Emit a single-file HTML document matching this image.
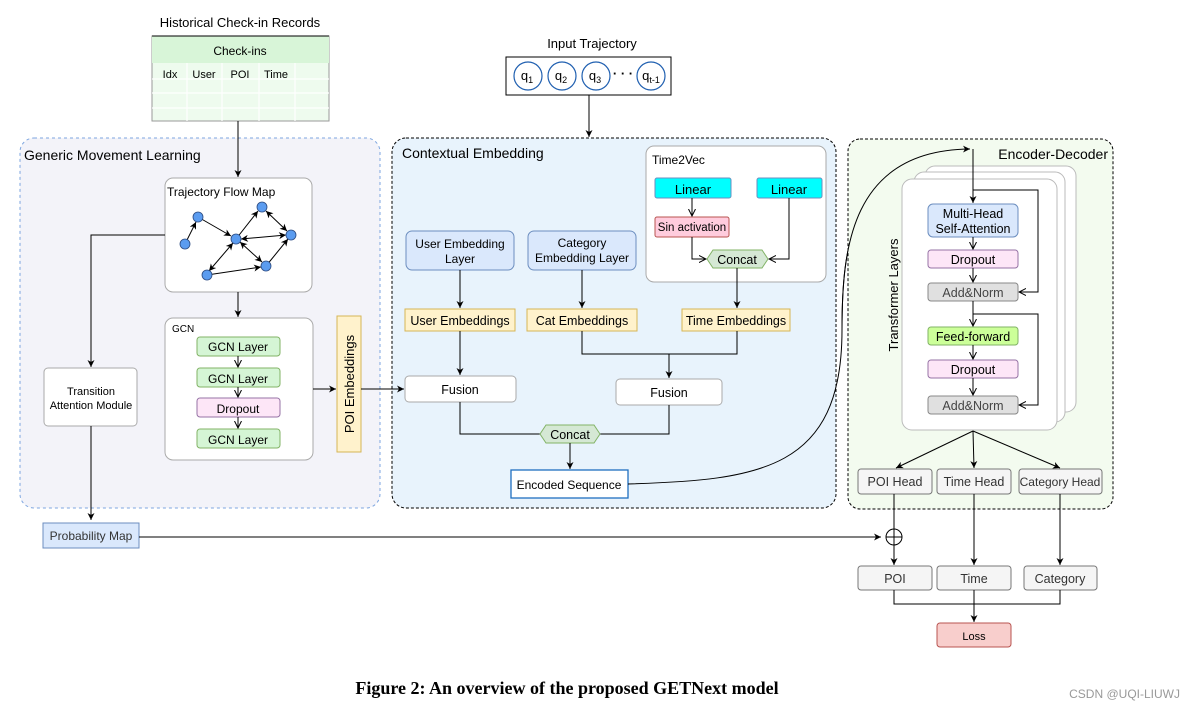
<!DOCTYPE html>
<html><head><meta charset="utf-8"><style>
html,body{margin:0;padding:0;background:#fff;}
svg{display:block;font-family:"Liberation Sans",sans-serif;}
text{font-family:"Liberation Sans",sans-serif;}
</style></head><body>
<svg width="1194" height="712" viewBox="0 0 1194 712" xmlns="http://www.w3.org/2000/svg">
<defs>
<marker id="a" markerWidth="8" markerHeight="8" refX="7" refY="4" orient="auto" markerUnits="userSpaceOnUse"><path d="M0,0.5 L7,4 L0,7.5 L2,4 Z" fill="#000"/></marker>
<marker id="o" markerWidth="8" markerHeight="8" refX="7" refY="4" orient="auto" markerUnits="userSpaceOnUse"><path d="M0,0.5 L7,4 L0,7.5" fill="none" stroke="#000"/></marker>
<marker id="s" markerWidth="8" markerHeight="8" refX="1" refY="4" orient="auto" markerUnits="userSpaceOnUse"><path d="M8,0.5 L1,4 L8,7.5 L6,4 Z" fill="#000"/></marker>
</defs>
<g stroke-width="1" font-size="12">
<!-- Historical -->
<text x="240" y="27" text-anchor="middle" font-size="13">Historical Check-in Records</text>
<rect x="152" y="36" width="177" height="85" fill="#eefbee" stroke="#999"/>
<rect x="152" y="36" width="177" height="27" fill="#d8f5d8"/>
<line x1="152" y1="36" x2="329" y2="36" stroke="#000"/>
<g stroke="#ffffff" stroke-width="1.2">
<line x1="187" y1="63" x2="187" y2="121"/><line x1="222" y1="63" x2="222" y2="121"/><line x1="259" y1="63" x2="259" y2="121"/><line x1="295" y1="63" x2="295" y2="121"/>
<line x1="152" y1="79" x2="329" y2="79"/><line x1="152" y1="93" x2="329" y2="93"/><line x1="152" y1="108" x2="329" y2="108"/>
</g>
<text x="240" y="55" text-anchor="middle" font-size="12">Check-ins</text>
<g font-size="11" text-anchor="middle"><text x="170" y="78">Idx</text><text x="204" y="78">User</text><text x="240" y="78">POI</text><text x="276" y="78">Time</text></g>

<!-- GML -->
<rect x="20" y="138" width="360" height="370" rx="14" fill="#f3f3f9" stroke="#7ea6e0" stroke-dasharray="3,3"/>
<line x1="238" y1="121" x2="238" y2="177" stroke="#000" marker-end="url(#a)"/>
<text x="24" y="160" font-size="14">Generic Movement Learning</text>
<rect x="165" y="178" width="147" height="114" rx="8" fill="#fff" stroke="#aaa"/>
<text x="167" y="196" font-size="12">Trajectory Flow Map</text>
<g stroke="#000" stroke-width="1">
<line x1="185" y1="244" x2="196" y2="222" marker-end="url(#a)"/>
<line x1="198" y1="217" x2="231" y2="236" marker-end="url(#a)"/>
<line x1="236" y1="239" x2="258" y2="211" marker-end="url(#a)"/>
<line x1="266" y1="211" x2="287" y2="231" marker-end="url(#a)" marker-start="url(#s)"/>
<line x1="241" y1="239" x2="286" y2="235" marker-end="url(#a)" marker-start="url(#s)"/>
<line x1="240" y1="242" x2="262" y2="262" marker-end="url(#a)" marker-start="url(#s)"/>
<line x1="266" y1="266" x2="288" y2="239" marker-end="url(#a)"/>
<line x1="209" y1="271" x2="233" y2="243" marker-end="url(#a)" marker-start="url(#s)"/>
<line x1="207" y1="275" x2="261" y2="267" marker-end="url(#a)"/>
</g>
<g fill="#5b9cf0" stroke="#2b4a80" stroke-width="0.8">
<circle cx="198" cy="217" r="5"/><circle cx="185" cy="244" r="5"/><circle cx="236" cy="239" r="5"/><circle cx="262" cy="207" r="5"/><circle cx="291" cy="235" r="5"/><circle cx="266" cy="266" r="5"/><circle cx="207" cy="275" r="5"/>
</g>
<line x1="238" y1="292" x2="238" y2="317" stroke="#000" marker-end="url(#a)"/>
<rect x="165" y="318" width="148" height="142" rx="8" fill="#fff" stroke="#aaa"/>
<text x="172" y="332" font-size="10">GCN</text>
<g font-size="12" text-anchor="middle">
<rect x="197" y="337" width="83" height="19" rx="3" fill="#d5f5d5" stroke="#82b366"/><text x="238" y="351">GCN Layer</text>
<rect x="197" y="368" width="83" height="19" rx="3" fill="#d5f5d5" stroke="#82b366"/><text x="238" y="383">GCN Layer</text>
<rect x="197" y="398" width="83" height="19" rx="3" fill="#fde6f7" stroke="#9673a6"/><text x="238" y="413">Dropout</text>
<rect x="197" y="429" width="83" height="19" rx="3" fill="#d5f5d5" stroke="#82b366"/><text x="238" y="444">GCN Layer</text>
</g>
<g stroke="#000"><line x1="238" y1="356" x2="238" y2="367" marker-end="url(#o)"/><line x1="238" y1="387" x2="238" y2="397" marker-end="url(#o)"/><line x1="238" y1="417" x2="238" y2="428" marker-end="url(#o)"/></g>
<polyline points="165,235 91,235 91,367" fill="none" stroke="#000" marker-end="url(#a)"/>
<rect x="44" y="368" width="93" height="58" rx="4" fill="#fff" stroke="#aaa"/>
<text x="91" y="395" text-anchor="middle" font-size="11">Transition</text>
<text x="91" y="409" text-anchor="middle" font-size="11">Attention Module</text>
<line x1="91" y1="426" x2="91" y2="520" stroke="#000" marker-end="url(#a)"/>
<rect x="43" y="523" width="96" height="25" fill="#dae8fc" stroke="#6c8ebf"/>
<text x="91" y="540" text-anchor="middle" font-size="12" fill="#333">Probability Map</text>
<line x1="139" y1="537" x2="881" y2="537" stroke="#000" marker-end="url(#a)"/>
<line x1="313" y1="389" x2="336" y2="389" stroke="#000" marker-end="url(#a)"/>
<rect x="337" y="316" width="24" height="136" fill="#fff2cc" stroke="#d6b656"/>
<text transform="translate(354,384) rotate(-90)" text-anchor="middle" font-size="13">POI Embeddings</text>

<!-- Contextual -->
<rect x="392" y="138" width="444" height="370" rx="14" fill="#e8f3fc" stroke="#000" stroke-dasharray="3,2"/>
<line x1="361" y1="389" x2="404" y2="389" stroke="#000" marker-end="url(#a)"/>
<text x="402" y="158" font-size="14">Contextual Embedding</text>
<text x="592" y="48" text-anchor="middle" font-size="13">Input Trajectory</text>
<rect x="506" y="57" width="165" height="38" fill="#fff" stroke="#000"/>
<g fill="#fff" stroke="#1f5fb0" stroke-width="1.2"><circle cx="528" cy="76" r="14"/><circle cx="562" cy="76" r="14"/><circle cx="596" cy="76" r="14"/><circle cx="651" cy="76" r="14"/></g>
<g font-size="13" text-anchor="middle"><text x="527" y="80">q<tspan font-size="9" dy="3">1</tspan></text><text x="561" y="80">q<tspan font-size="9" dy="3">2</tspan></text><text x="595" y="80">q<tspan font-size="9" dy="3">3</tspan></text><text x="651" y="80">q<tspan font-size="9" dy="3">t-1</tspan></text><text x="623" y="78" font-weight="bold">· · ·</text></g>
<line x1="589" y1="95" x2="589" y2="137" stroke="#000" marker-end="url(#a)"/>

<rect x="646" y="146" width="180" height="136" rx="8" fill="#fff" stroke="#aaa"/>
<text x="652" y="164" font-size="12">Time2Vec</text>
<rect x="655" y="178" width="76" height="20" rx="2" fill="#00ffff" stroke="#6c8ebf"/><text x="693" y="194" text-anchor="middle" font-size="13">Linear</text>
<rect x="757" y="178" width="65" height="20" rx="2" fill="#00ffff" stroke="#6c8ebf"/><text x="789" y="194" text-anchor="middle" font-size="13">Linear</text>
<rect x="655" y="217" width="74" height="20" rx="2" fill="#ffccdd" stroke="#b85450"/><text x="692" y="231" text-anchor="middle" font-size="11.5">Sin activation</text>
<line x1="692" y1="198" x2="692" y2="216" stroke="#000" marker-end="url(#o)"/>
<polygon points="707,259 713,250 762,250 768,259 762,268 713,268" fill="#d5e8d4" stroke="#82b366"/>
<text x="737" y="264" text-anchor="middle" font-size="12.5">Concat</text>
<polyline points="692,237 692,259 706,259" fill="none" stroke="#000" marker-end="url(#o)"/>
<polyline points="789,198 789,259 769,259" fill="none" stroke="#000" marker-end="url(#o)"/>
<line x1="737" y1="268" x2="737" y2="308" stroke="#000" marker-end="url(#a)"/>

<rect x="406" y="231" width="108" height="39" rx="6" fill="#dae8fc" stroke="#6c8ebf"/>
<text x="460" y="248" text-anchor="middle" font-size="12">User Embedding</text><text x="460" y="263" text-anchor="middle" font-size="12">Layer</text>
<rect x="528" y="231" width="108" height="39" rx="6" fill="#dae8fc" stroke="#6c8ebf"/>
<text x="582" y="247" text-anchor="middle" font-size="12">Category</text><text x="582" y="262" text-anchor="middle" font-size="12">Embedding Layer</text>
<line x1="460" y1="270" x2="460" y2="308" stroke="#000" marker-end="url(#a)"/>
<line x1="582" y1="270" x2="582" y2="308" stroke="#000" marker-end="url(#a)"/>
<g font-size="12.5" text-anchor="middle">
<rect x="405" y="309" width="110" height="22" fill="#fff2cc" stroke="#d6b656"/><text x="460" y="325">User Embeddings</text>
<rect x="527" y="309" width="110" height="22" fill="#fff2cc" stroke="#d6b656"/><text x="582" y="325">Cat Embeddings</text>
<rect x="682" y="309" width="108" height="22" fill="#fff2cc" stroke="#d6b656"/><text x="736" y="325">Time Embeddings</text>
</g>
<line x1="460" y1="331" x2="460" y2="375" stroke="#000" marker-end="url(#a)"/>
<polyline points="582,331 582,354 737,354 737,331" fill="none" stroke="#000"/>
<line x1="669" y1="354" x2="669" y2="378" stroke="#000" marker-end="url(#a)"/>
<rect x="405" y="376" width="111" height="26" rx="4" fill="#fff" stroke="#aaa"/><text x="460" y="394" text-anchor="middle" font-size="12.5">Fusion</text>
<rect x="616" y="379" width="106" height="26" rx="4" fill="#fff" stroke="#aaa"/><text x="669" y="397" text-anchor="middle" font-size="12.5">Fusion</text>
<polyline points="460,402 460,434 540,434" fill="none" stroke="#000"/>
<polyline points="669,405 669,434 600,434" fill="none" stroke="#000"/>
<polygon points="540,434 546,425 594,425 600,434 594,443 546,443" fill="#d5e8d4" stroke="#82b366"/>
<text x="570" y="439" text-anchor="middle" font-size="12.5">Concat</text>
<line x1="570" y1="443" x2="570" y2="469" stroke="#000" marker-end="url(#a)"/>
<rect x="511" y="470" width="117" height="28" fill="#fff" stroke="#1f6fc0" stroke-width="1.3"/>
<text x="569" y="489" text-anchor="middle" font-size="12">Encoded Sequence</text>
<path d="M628,484 C760,480 842,470 842,330 C842,250 850,150 970,149" fill="none" stroke="#000" marker-end="url(#a)"/>

<!-- Encoder-Decoder -->
<rect x="848" y="139" width="265" height="370" rx="12" fill="#f3fbef" stroke="#000" stroke-dasharray="3,2"/>
<path d="M842,330 C842,250 850,150 970,149" fill="none" stroke="#000" marker-end="url(#a)"/>
<text x="1108" y="159" text-anchor="end" font-size="14">Encoder-Decoder</text>
<rect x="925" y="166" width="151" height="246" rx="10" fill="#fff" stroke="#bbb"/>
<rect x="914" y="172" width="151" height="250" rx="10" fill="#fff" stroke="#bbb"/>
<rect x="902" y="179" width="155" height="251" rx="10" fill="#fff" stroke="#bbb"/>
<text transform="translate(898,295) rotate(-90)" text-anchor="middle" font-size="13">Transformer Layers</text>
<line x1="973" y1="149" x2="973" y2="203" stroke="#000" marker-end="url(#a)"/>
<polyline points="973,190 1038,190 1038,292 1019,292" fill="none" stroke="#000" marker-end="url(#o)"/>
<g font-size="12.5" text-anchor="middle">
<rect x="928" y="204" width="90" height="33" rx="5" fill="#dae8fc" stroke="#6c8ebf"/><text x="973" y="218">Multi-Head</text><text x="973" y="233">Self-Attention</text>
<rect x="928" y="250" width="90" height="18" rx="3" fill="#fde6f7" stroke="#9673a6"/><text x="973" y="264">Dropout</text>
<rect x="928" y="283" width="90" height="18" rx="3" fill="#e0e0e0" stroke="#888"/><text x="973" y="297" fill="#444">Add&amp;Norm</text>
<rect x="928" y="327" width="90" height="18" rx="3" fill="#ccff99" stroke="#82b366"/><text x="973" y="341">Feed-forward</text>
<rect x="928" y="360" width="90" height="18" rx="3" fill="#fde6f7" stroke="#9673a6"/><text x="973" y="374">Dropout</text>
<rect x="928" y="396" width="90" height="18" rx="3" fill="#e0e0e0" stroke="#888"/><text x="973" y="410" fill="#444">Add&amp;Norm</text>
</g>
<g stroke="#000"><line x1="973" y1="237" x2="973" y2="249" marker-end="url(#o)"/><line x1="973" y1="268" x2="973" y2="282" marker-end="url(#o)"/><line x1="973" y1="301" x2="973" y2="326" marker-end="url(#o)"/><line x1="973" y1="345" x2="973" y2="359" marker-end="url(#o)"/><line x1="973" y1="378" x2="973" y2="395" marker-end="url(#o)"/></g>
<polyline points="973,314 1038,314 1038,405 1019,405" fill="none" stroke="#000" marker-end="url(#o)"/>
<g stroke="#000"><line x1="973" y1="431" x2="896" y2="468" marker-end="url(#a)"/><line x1="973" y1="431" x2="974" y2="468" marker-end="url(#a)"/><line x1="973" y1="431" x2="1060" y2="468" marker-end="url(#a)"/></g>
<g font-size="12.5" text-anchor="middle" fill="#333">
<rect x="858" y="469" width="74" height="25" rx="3" fill="#f5f5f5" stroke="#777"/><text x="895" y="486">POI Head</text>
<rect x="937" y="469" width="74" height="25" rx="3" fill="#f5f5f5" stroke="#777"/><text x="974" y="486">Time Head</text>
<rect x="1019" y="469" width="83" height="25" rx="3" fill="#f5f5f5" stroke="#777"/><text x="1060" y="486" font-size="12">Category Head</text>
<rect x="858" y="566" width="74" height="24" rx="3" fill="#f5f5f5" stroke="#777"/><text x="895" y="583">POI</text>
<rect x="937" y="566" width="74" height="24" rx="3" fill="#f5f5f5" stroke="#777"/><text x="974" y="583">Time</text>
<rect x="1024" y="566" width="73" height="24" rx="3" fill="#f5f5f5" stroke="#777"/><text x="1060" y="583">Category</text>
<rect x="937" y="623" width="74" height="24" rx="3" fill="#f8cecc" stroke="#b85450"/><text x="974" y="640" font-size="11" fill="#000">Loss</text>
</g>
<circle cx="894" cy="537" r="8" fill="#fff" stroke="#000"/>
<line x1="886" y1="537" x2="902" y2="537" stroke="#000"/><line x1="894" y1="529" x2="894" y2="545" stroke="#000"/>
<line x1="894" y1="494" x2="894" y2="529" stroke="#000"/>
<line x1="894" y1="545" x2="894" y2="565" stroke="#000" marker-end="url(#a)"/>
<line x1="974" y1="494" x2="974" y2="565" stroke="#000" marker-end="url(#a)"/>
<line x1="1060" y1="494" x2="1060" y2="565" stroke="#000" marker-end="url(#a)"/>
<polyline points="894,590 894,604 1060,604 1060,590" fill="none" stroke="#000"/>
<line x1="974" y1="590" x2="974" y2="622" stroke="#000" marker-end="url(#a)"/>

<text x="567" y="694" text-anchor="middle" font-size="18" font-weight="bold" style="font-family:'Liberation Serif',serif">Figure 2: An overview of the proposed GETNext model</text>
<text x="1180" y="698" text-anchor="end" font-size="12" fill="#999">CSDN @UQI-LIUWJ</text>
</g>
</svg>
</body></html>
